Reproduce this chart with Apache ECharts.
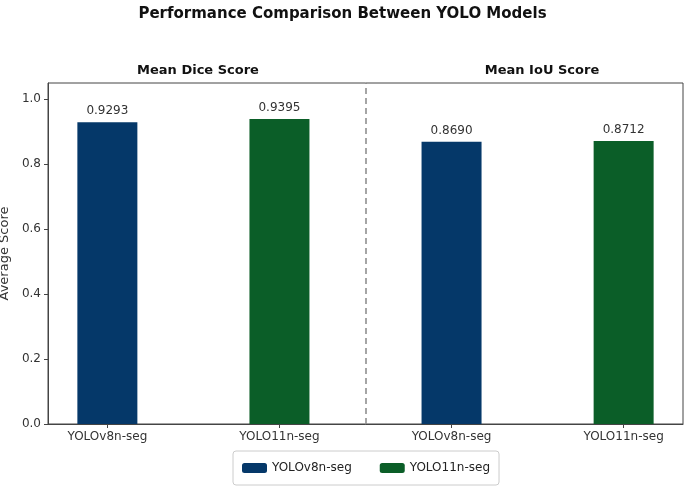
<!DOCTYPE html>
<html>
<head>
    <meta charset="UTF-8">
    <title>Performance Comparison Between YOLO Models</title>
    <script src="https://cdn.jsdelivr.net/npm/echarts@6.0.0/dist/echarts.min.js"></script>
    <style>
        body { margin: 0; padding: 0; background: #fff; }
        #chart { width: 685px; height: 496px; }
    </style>
</head>
<body>
<div id="chart"></div>
<script>
// 数据
const tickNames = ['YOLOv8n-seg', 'YOLO11n-seg', 'YOLOv8n-seg', 'YOLO11n-seg'];
const groupTitles = ['Mean Dice Score', 'Mean IoU Score'];
const v8Values = [[0, 0.9293], [2, 0.8690]];   // YOLOv8n-seg: dice, iou
const v11Values = [[1, 0.9395], [3, 0.8712]];  // YOLO11n-seg: dice, iou
const yTicks = [0, 0.2, 0.4, 0.6, 0.8, 1.0];

const font = 'DejaVu Sans';
const chart = echarts.init(document.getElementById('chart'));

const valueLabel = {
    show: true,
    position: 'top',
    distance: 5,
    color: '#333',
    fontSize: 12,
    fontFamily: font,
    formatter: p => p.value[1].toFixed(4)
};

chart.setOption({
    animation: false,
    title: [
        {
            text: 'Performance Comparison Between YOLO Models',
            left: 'center', top: 2,
            textStyle: { fontFamily: font, fontWeight: 'bold', fontSize: 15, color: '#111' }
        },
        {
            text: groupTitles[0], left: 193, top: 59, textAlign: 'center',
            textStyle: { fontFamily: font, fontWeight: 'bold', fontSize: 13, color: '#111' }
        },
        {
            text: groupTitles[1], left: 537, top: 59, textAlign: 'center',
            textStyle: { fontFamily: font, fontWeight: 'bold', fontSize: 13, color: '#111' }
        }
    ],
    legend: {
        bottom: 11,
        left: 233,
        itemWidth: 25,
        itemHeight: 10,
        itemGap: 28,
        padding: [11, 9],
        borderColor: '#ccc',
        borderWidth: 1,
        borderRadius: 3,
        textStyle: { fontFamily: font, fontSize: 12, color: '#222' },
        data: ['YOLOv8n-seg', 'YOLO11n-seg']
    },
    grid: {
        left: 48, right: 2, top: 83, bottom: 72,
        outerBoundsMode: 'none',
        show: true, borderColor: '#444', borderWidth: 1
    },
    xAxis: {
        type: 'value',
        min: -0.345,
        max: 3.345,
        splitLine: { show: false },
        axisLine: { show: true, onZero: false, lineStyle: { color: '#444' } },
        axisTick: { show: true, customValues: [0, 1, 2, 3], length: 4, lineStyle: { color: '#444' } },
        axisLabel: {
            customValues: [0, 1, 2, 3],
            formatter: v => tickNames[Math.round(v)],
            color: '#333', fontSize: 12, fontFamily: font, margin: 7
        }
    },
    yAxis: {
        type: 'value',
        min: 0,
        max: 1.05,
        name: 'Average Score',
        nameLocation: 'middle',
        nameGap: 32,
        nameTextStyle: { fontFamily: font, fontSize: 13, color: '#333' },
        splitLine: { show: false },
        axisLine: { show: true, onZero: false, lineStyle: { color: '#444' } },
        axisTick: { show: true, customValues: yTicks, length: 4, lineStyle: { color: '#444' } },
        axisLabel: {
            customValues: yTicks,
            formatter: v => v.toFixed(1),
            color: '#333', fontSize: 12, fontFamily: font, margin: 7
        }
    },
    series: [
        {
            name: 'YOLOv8n-seg',
            type: 'bar',
            barWidth: 60,
            barGap: '-100%',
            itemStyle: { color: '#053869' },
            label: valueLabel,
            data: v8Values,
            markLine: {
                silent: true,
                symbol: 'none',
                label: { show: false },
                lineStyle: { color: '#888', type: [6, 4], width: 1.5 },
                data: [{ xAxis: 1.5 }]
            }
        },
        {
            name: 'YOLO11n-seg',
            type: 'bar',
            barWidth: 60,
            barGap: '-100%',
            itemStyle: { color: '#0b5e28' },
            label: valueLabel,
            data: v11Values
        }
    ]
});
</script>
</body>
</html>
